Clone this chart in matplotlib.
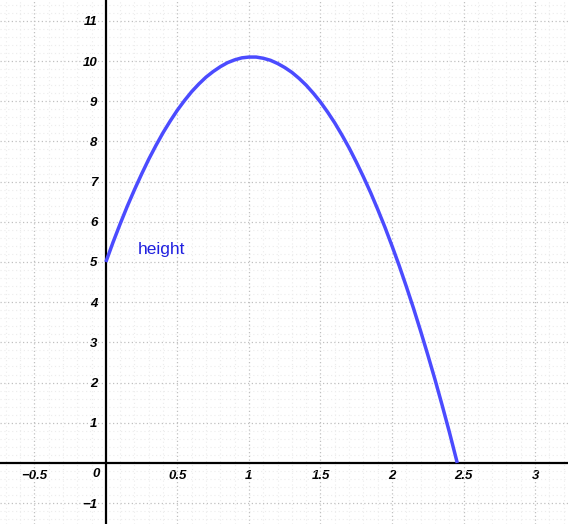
import matplotlib.pyplot as plt
import numpy as np

# values
t = [0.0, 0.05, 0.1, 0.15, 0.2, 0.25, 0.3, 0.35, 0.4, 0.45, 0.5, 0.55, 0.6,
     0.65, 0.7, 0.75, 0.8, 0.85, 0.9, 0.95, 1.0, 1.05, 1.1, 1.15, 1.2, 1.25,
     1.3, 1.35, 1.4, 1.45, 1.5, 1.55, 1.6, 1.65, 1.7, 1.75, 1.8, 1.85, 1.9,
     1.95, 2.0, 2.05, 2.1, 2.15, 2.2, 2.25, 2.3, 2.35, 2.4, 2.456]
height = [5.00, 5.49, 5.95, 6.39, 6.80, 7.19, 7.56, 7.90, 8.22, 8.51, 8.78,
          9.02, 9.24, 9.43, 9.60, 9.74, 9.86, 9.96, 10.03, 10.08, 10.10, 10.10,
          10.07, 10.02, 9.94, 9.84, 9.72, 9.57, 9.40, 9.20, 8.98, 8.73, 8.46,
          8.16, 7.84, 7.49, 7.12, 6.73, 6.31, 5.87, 5.40, 4.91, 4.39, 3.85,
          3.28, 2.69, 2.08, 1.44, 0.78, 0.00]

xticks = [-0.5, 0.5, 1, 1.5, 2, 2.5, 3]
xticklabels = ['\u22120.5', '0.5', '1', '1.5', '2', '2.5', '3']
yticks = [-1, 1, 2, 3, 4, 5, 6, 7, 8, 9, 10, 11]
yticklabels = ['\u22121'] + [str(v) for v in yticks[1:]]

plt.rcParams['font.family'] = ['Liberation Sans', 'DejaVu Sans']

fig = plt.figure(figsize=(5.68, 5.24), dpi=100)
ax = fig.add_axes([0, 0, 1, 1])

ax.set_xlim(-0.74, 3.23)
ax.set_ylim(-1.52, 11.52)

# grid
ax.set_xticks(np.arange(-0.7, 3.25, 0.1), minor=True)
ax.set_yticks(np.arange(-1.4, 11.6, 0.2), minor=True)
ax.set_xticks(xticks)
ax.set_yticks(yticks)
ax.grid(which='minor', color='#ececec', linestyle=(0, (1, 2.5)), linewidth=0.8)
ax.grid(which='major', color='#c0c0c0', linestyle=(0, (1, 2)), linewidth=0.9)
ax.set_axisbelow(True)

# axes through the origin
for s in ['top', 'right']:
    ax.spines[s].set_visible(False)
ax.spines['left'].set_position(('data', 0))
ax.spines['bottom'].set_position(('data', 0))
ax.spines['left'].set_linewidth(1.6)
ax.spines['bottom'].set_linewidth(1.6)
ax.spines['left'].set_zorder(3)
ax.spines['bottom'].set_zorder(3)

tick_font = dict(fontsize=9.5, fontweight='bold', style='italic')
ax.set_xticklabels(xticklabels, **tick_font)
ax.set_yticklabels(yticklabels, **tick_font)
ax.tick_params(which='both', length=0)
ax.tick_params(axis='x', pad=5)
ax.tick_params(axis='y', pad=6)
ax.text(-0.045, -0.28, '0', ha='right', va='center', **tick_font)

ax.plot(t, height, color='#4b4bff', linewidth=2.5, zorder=4,
        solid_capstyle='butt', solid_joinstyle='round')
ax.text(0.22, 5.32, 'height', color='#2020e0', fontsize=12.5, ha='left', va='center')

fig.savefig('out.png', dpi=100)
